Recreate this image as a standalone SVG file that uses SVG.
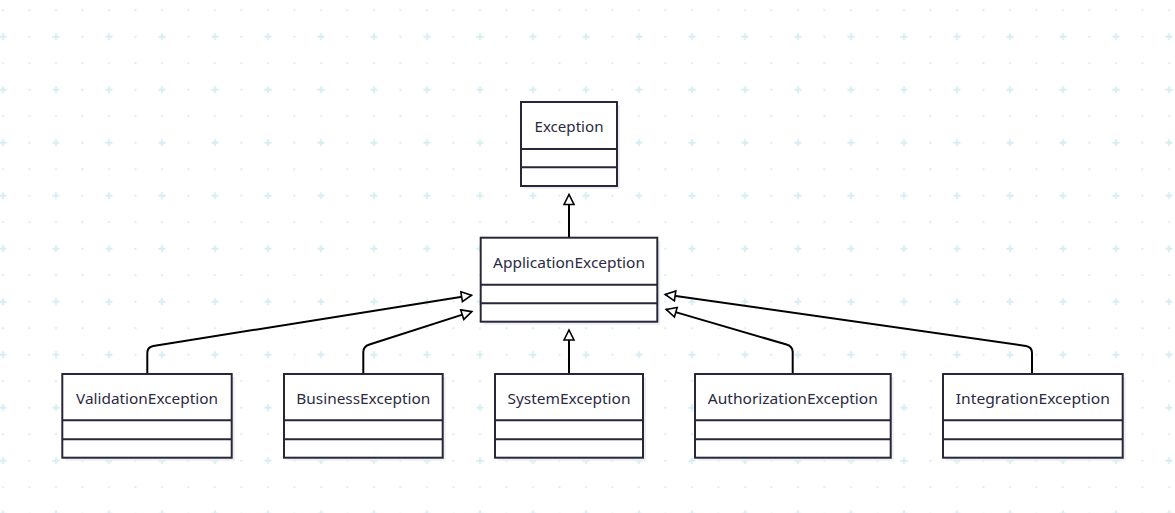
<svg xmlns="http://www.w3.org/2000/svg" width="1175" height="513" viewBox="0 0 1175 513">
<style>
.box{fill:#ffffff;stroke:#28273a;stroke-width:2}
.shadow{fill:#eceef1}
.div{stroke:#28273a;stroke-width:2;fill:none}
.lbl{font-family:"Noto Sans","DejaVu Sans",sans-serif;font-size:15.3px;fill:#2b2a3f;text-anchor:middle}
.edge{fill:none;stroke:#000000;stroke-width:2;marker-end:url(#tri)}
</style>
<defs>
<pattern id="grid" patternUnits="userSpaceOnUse" x="-36.75" y="-3.05" width="53" height="53">
<rect x="12.25" y="12.25" width="2" height="2" fill="#d6eef1"/>
<rect x="38.75" y="12.25" width="2" height="2" fill="#d6eef1"/>
<rect x="12.25" y="38.75" width="2" height="2" fill="#d6eef1"/>
<rect x="36.25" y="38.75" width="7" height="2" fill="#d6eef1"/>
<rect x="38.75" y="36.25" width="2" height="7" fill="#d6eef1"/>
</pattern>
<marker id="tri" viewBox="-1 -1 12 12" refX="10" refY="5" markerWidth="12" markerHeight="12" markerUnits="userSpaceOnUse" orient="auto" overflow="visible">
<path d="M0,0 L10,5 L0,10 Z" fill="#ffffff" stroke="#000000" stroke-width="1.6" stroke-linejoin="miter"/>
</marker>
</defs>
<rect width="1175" height="513" fill="#ffffff"/>
<rect width="1175" height="513" fill="url(#grid)"/>
<g id="connectors">
<path class="edge" d="M569,237.7 V194.5"/>
<path class="edge" d="M569,374 V330"/>
<path class="edge" d="M147.3,374 V353 Q147.3,347 153.3,346 L471.5,295.2"/>
<path class="edge" d="M363.3,374 V352 Q363.3,346.5 369.5,344.5 L471.8,311.6"/>
<path class="edge" d="M792.7,374 V352 Q792.7,346.5 786.5,344.5 L666.2,309.4"/>
<path class="edge" d="M1032,374 V353 Q1032,347 1026,346 L665.2,294.5"/>
</g>
<g id="Exception">
<rect class="shadow" x="524" y="105" width="96" height="84"/>
<rect class="box" x="521" y="102" width="96" height="84"/>
<path class="div" d="M521,149 H617 M521,167.3 H617"/>
<text class="lbl" x="569" y="132.3" textLength="69" lengthAdjust="spacingAndGlyphs">Exception</text>
</g>
<g id="ApplicationException">
<rect class="shadow" x="483.7" y="240.7" width="176.6" height="84"/>
<rect class="box" x="480.7" y="237.7" width="176.6" height="84"/>
<path class="div" d="M480.7,284.7 H657.3 M480.7,303.3 H657.3"/>
<text class="lbl" x="569" y="268" textLength="152" lengthAdjust="spacingAndGlyphs">ApplicationException</text>
</g>
<g id="ValidationException">
<rect class="shadow" x="65.3" y="377" width="169.4" height="83.7"/>
<rect class="box" x="62.3" y="374" width="169.4" height="83.7"/>
<path class="div" d="M62.3,420.3 H231.7 M62.3,439.3 H231.7"/>
<text class="lbl" x="147" y="404.3" textLength="142" lengthAdjust="spacingAndGlyphs">ValidationException</text>
</g>
<g id="BusinessException">
<rect class="shadow" x="287" y="377" width="158.7" height="83.7"/>
<rect class="box" x="284" y="374" width="158.7" height="83.7"/>
<path class="div" d="M284,420.3 H442.7 M284,439.3 H442.7"/>
<text class="lbl" x="363.3" y="404.3" textLength="134" lengthAdjust="spacingAndGlyphs">BusinessException</text>
</g>
<g id="SystemException">
<rect class="shadow" x="498" y="377" width="148" height="83.7"/>
<rect class="box" x="495" y="374" width="148" height="83.7"/>
<path class="div" d="M495,420.3 H643 M495,439.3 H643"/>
<text class="lbl" x="569" y="404.3" textLength="123" lengthAdjust="spacingAndGlyphs">SystemException</text>
</g>
<g id="AuthorizationException">
<rect class="shadow" x="698" y="377" width="195.7" height="83.7"/>
<rect class="box" x="695" y="374" width="195.7" height="83.7"/>
<path class="div" d="M695,420.3 H890.7 M695,439.3 H890.7"/>
<text class="lbl" x="792.8" y="404.3" textLength="170" lengthAdjust="spacingAndGlyphs">AuthorizationException</text>
</g>
<g id="IntegrationException">
<rect class="shadow" x="946" y="377" width="179.7" height="83.7"/>
<rect class="box" x="943" y="374" width="179.7" height="83.7"/>
<path class="div" d="M943,420.3 H1122.7 M943,439.3 H1122.7"/>
<text class="lbl" x="1032.8" y="404.3" textLength="154" lengthAdjust="spacingAndGlyphs">IntegrationException</text>
</g>
</svg>
